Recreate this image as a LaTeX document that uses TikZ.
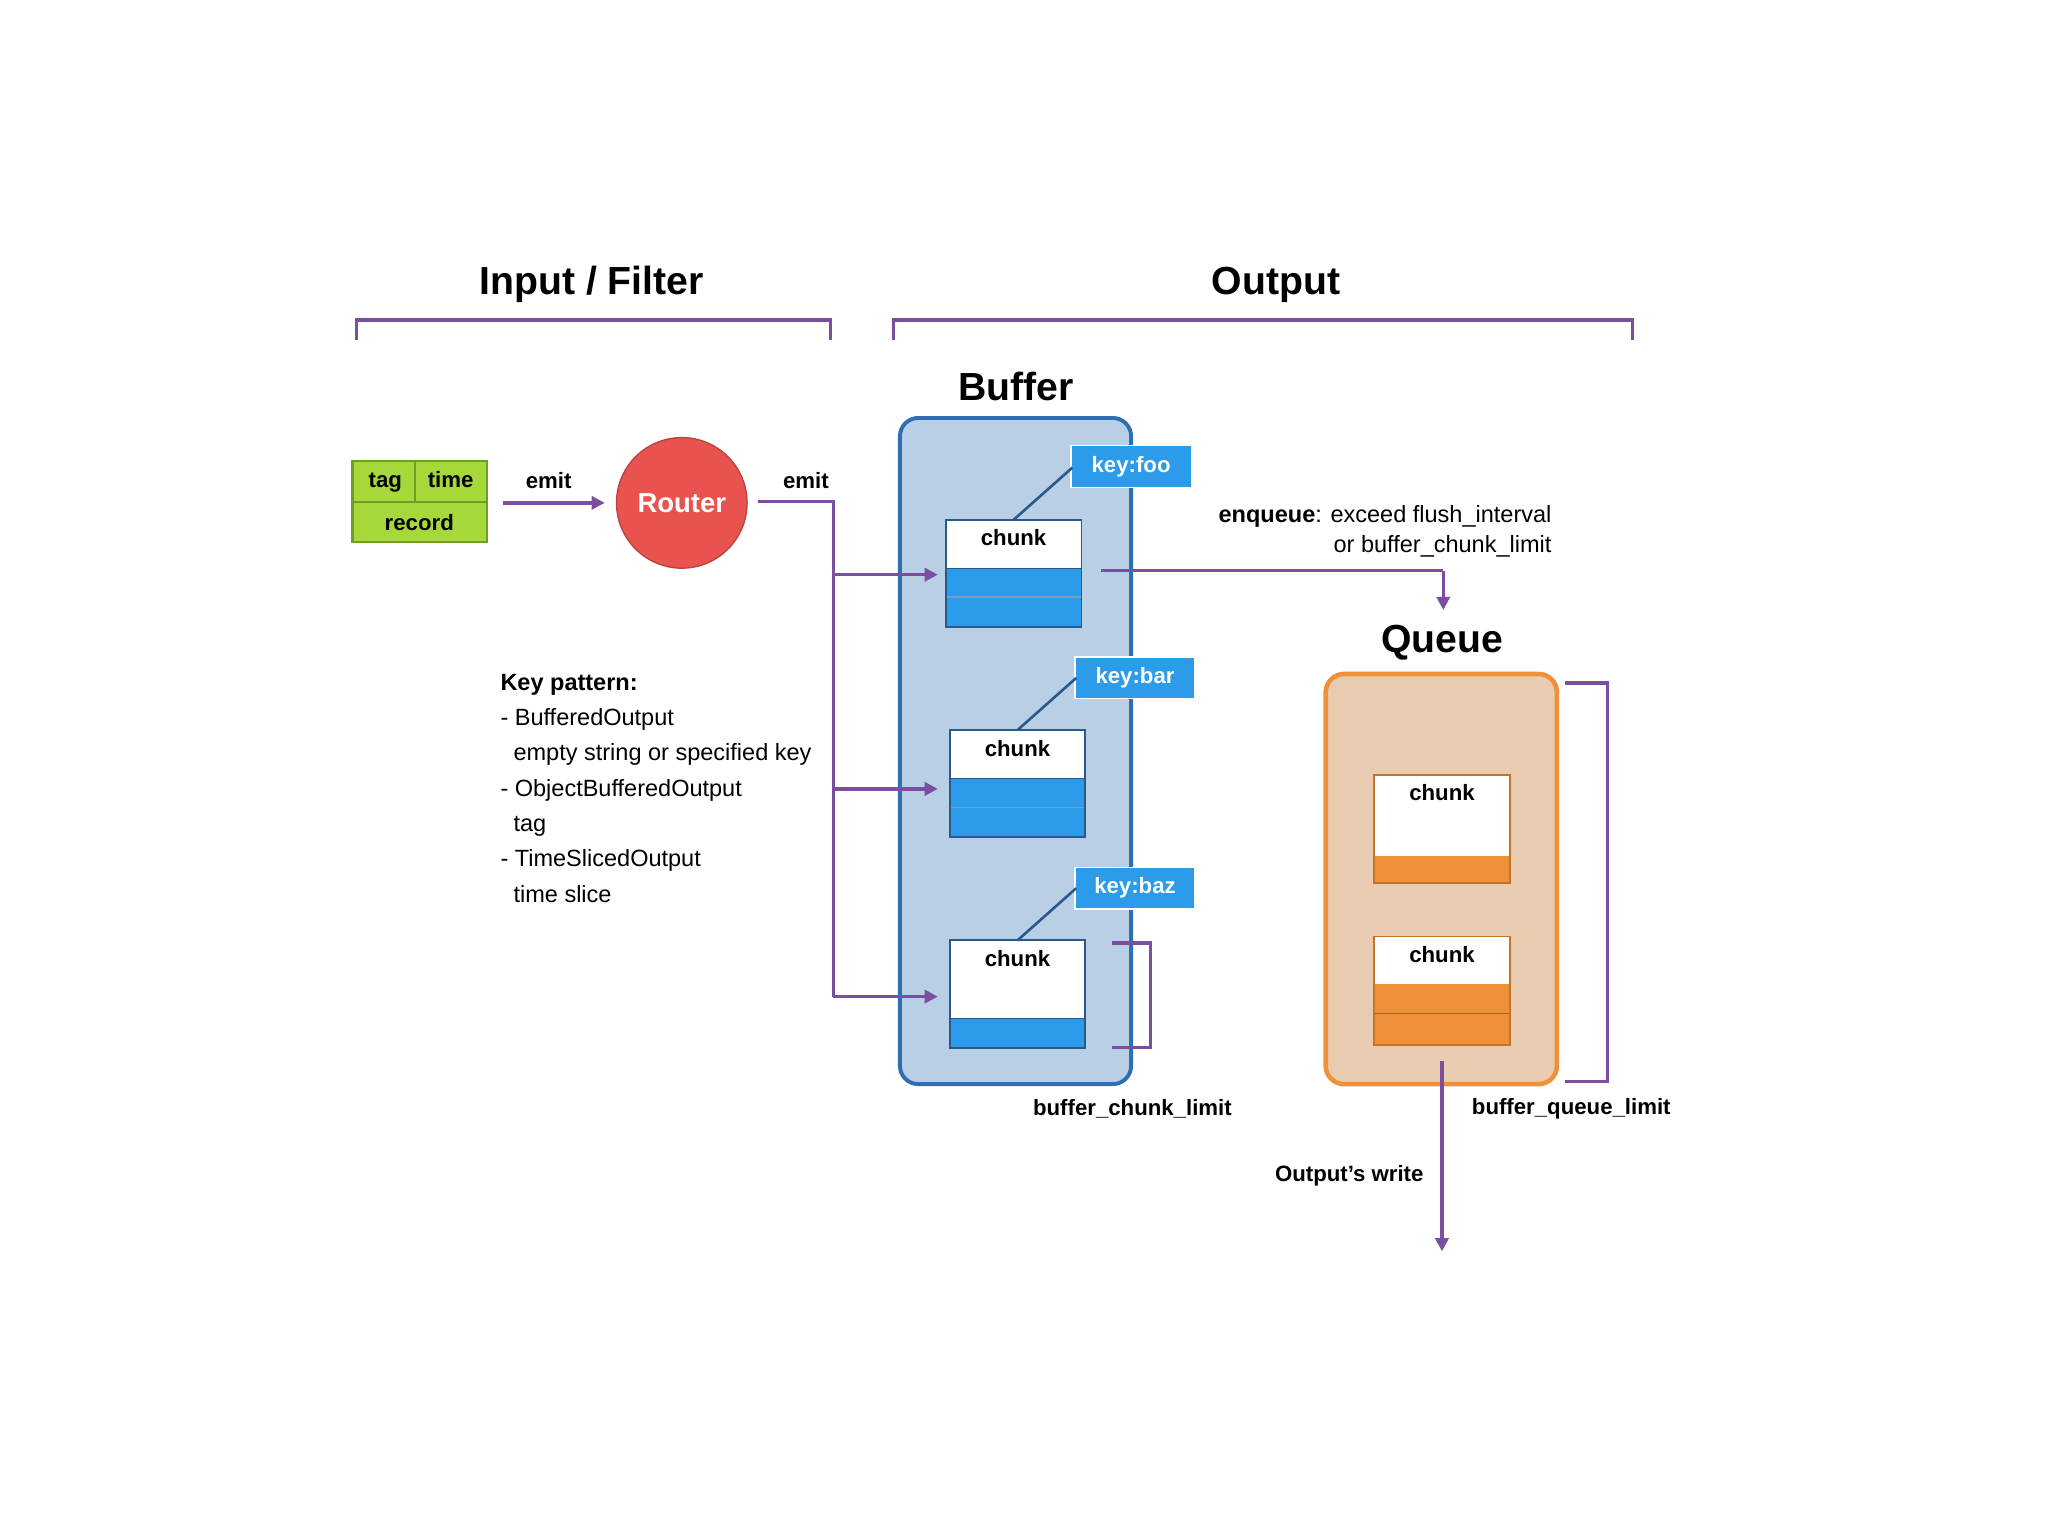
\documentclass[tikz,border=0pt]{standalone}
\usepackage{fontspec}
\setmainfont{Liberation Sans}
\usetikzlibrary{arrows.meta}
\definecolor{pur}{HTML}{7B4FA0}
\definecolor{grn}{HTML}{A6D83A}
\definecolor{grnd}{HTML}{6E9E2A}
\definecolor{rt}{HTML}{E8534F}
\definecolor{bfill}{HTML}{B8CFE6}
\definecolor{bdr}{HTML}{2F6DB5}
\definecolor{cb}{HTML}{2B9BEA}
\definecolor{qfill}{HTML}{E8CBB0}
\definecolor{qbdr}{HTML}{F0913A}
\definecolor{cbd}{HTML}{2A5A8A}
\begin{document}
\begin{tikzpicture}[x=1pt,y=-1pt,
  pl/.style={draw=pur,line width=2.5pt},
  arr/.style={pl,-{Triangle[length=10pt,width=10pt]}},
  ttl/.style={font=\fontsize{30}{32}\selectfont\bfseries},
  lab/.style={font=\fontsize{17}{19}\selectfont\bfseries},
  txt/.style={font=\fontsize{18}{20}\selectfont},
  key/.style={fill=cb,draw=white,line width=1pt,text=white,font=\fontsize{17}{19}\selectfont\bfseries,minimum width=92pt,minimum height=32pt,inner sep=0pt},
]
\useasboundingbox (0,0) rectangle (1568,1176);
\fill[white] (0,0) rectangle (1568,1176);
% titles & brackets
\node[ttl] (tin) at (453,218) {Input / Filter};
\node[ttl] (tout) at (977,218) {Output};
\draw[pl] (273,260) -- (273,245) -- (636,245) -- (636,260);
\draw[pl] (684,260) -- (684,245) -- (1250,245) -- (1250,260);
% record
\draw[grnd,line width=2pt,fill=grn] (270,353) rectangle (373,415);
\draw[grnd,line width=1.5pt] (270,384) -- (373,384) (318,353) -- (318,384);
\node[lab,text height=12pt,text depth=3pt] (tag) at (295,369) {tag};
\node[lab,text height=12pt,text depth=3pt] (time) at (345,369) {time};
\node[lab] (rec) at (321,400) {record};
% router
\node[circle,fill=rt,draw=rt!80!black,line width=1pt,minimum size=100pt,text=white,font=\fontsize{21}{23}\selectfont\bfseries] (router) at (522,385) {Router};
\node[lab] (e1) at (420,368) {emit};
\coordinate (a1) at (385,385);
\coordinate (a2) at (463,385);
\draw[arr] (a1) -- (a2);
\node[lab] (e2) at (617,368) {emit};
% buffer
\node[ttl] (buf) at (778,296) {Buffer};
\draw[bdr,line width=3pt,fill=bfill,rounded corners=14pt] (689,320) rectangle (866,830);
% chunks
\newcommand{\bchunk}[5]{%
  \fill[white] (#1,#2) rectangle (#1+104,#4);
  \fill[cb] (#1,#4) rectangle (#1+104,#2+82);
  \ifnum#5=2 \draw[cbd!60,line width=1pt] (#1,#4+22) -- (#1+104,#4+22);\fi
  \draw[cbd,line width=1.5pt] (#1,#2) rectangle (#1+104,#2+82);
  \draw[cbd,line width=1pt] (#1,#4) -- (#1+104,#4);
  \node[lab,anchor=north] (#3) at (#1+52,#2+4) {chunk};
}
\bchunk{724}{398}{c1}{435}{2}
\bchunk{727}{559}{c2}{596}{2}
\bchunk{727}{720}{c3}{780}{1}
\coordinate (c1t) at (776,398);\coordinate (c2t) at (779,559);\coordinate (c3t) at (779,720);
\node[key] (k1) at (866,357) {key:foo};
\node[key] (k2) at (869,519) {key:bar};
\node[key] (k3) at (869,680) {key:baz};
\coordinate (k1p) at (821,358);\coordinate (k2p) at (824,519);\coordinate (k3p) at (824,680);
\draw[cbd,line width=2pt] (c1t) -- (k1p);
\draw[cbd,line width=2pt] (c2t) -- (k2p);
\draw[cbd,line width=2pt] (c3t) -- (k3p);
% emit routing
\coordinate (r0) at (580,384);\coordinate (r1) at (638,384);\coordinate (r2) at (638,763);
\coordinate (b1) at (638,440);\coordinate (b2) at (638,604);
\coordinate (t1) at (718,440);\coordinate (t2) at (718,604);\coordinate (t3) at (718,763);
\draw[pl] (r0) -- (r1) -- (r2);
\draw[arr] (b1) -- (t1);
\draw[arr] (b2) -- (t2);
\draw[arr] (r2) -- (t3);
% key pattern
\node[txt,anchor=north west,align=left,inner sep=0pt] (kp) at (383,516) {\textbf{Key pattern:}\\[7pt]- BufferedOutput\\[7pt]\ \ empty string or specified key\\[7pt]- ObjectBufferedOutput\\[7pt]\ \ tag\\[7pt]- TimeSlicedOutput\\[7pt]\ \ time slice};
% enqueue
\node[txt,anchor=east,align=right,inner sep=0pt] (enq) at (1188,407) {\textbf{enqueue}: exceed flush\_interval\\[3pt]or buffer\_chunk\_limit};
\coordinate (q0) at (843,437);\coordinate (q1) at (1105,437);\coordinate (q2) at (1105,467);
\draw[pl] (q0) -- (q1);
\draw[arr] (q1) -- (q2);
% queue
\node[ttl] (que) at (1104,492) {Queue};
\draw[qbdr,line width=3.5pt,fill=qfill,rounded corners=14pt] (1015,516) rectangle (1192,830);
\newcommand{\qchunk}[4]{%
  \fill[white] (1052,#1) rectangle (1156,#3);
  \fill[qbdr] (1052,#3) rectangle (1156,#1+83);
  \ifnum#4=2 \draw[qbdr!70!black,line width=1pt] (1052,#3+23) -- (1156,#3+23);\fi
  \draw[qbdr!80!black,line width=1.5pt] (1052,#1) rectangle (1156,#1+83);
  \node[lab,anchor=north] (#2) at (1104,#1+4) {chunk};
}
\qchunk{593}{qc1}{655}{1}
\qchunk{717}{qc2}{753}{2}
% limits
\coordinate (l1) at (851,722);\coordinate (l2) at (881,722);\coordinate (l3) at (881,802);\coordinate (l4) at (851,802);
\draw[pl] (l1) -- (l2) -- (l3) -- (l4);
\node[lab] (bcl) at (867,849) {buffer\_chunk\_limit};
\coordinate (m1) at (1198,523);\coordinate (m2) at (1231,523);\coordinate (m3) at (1231,828);\coordinate (m4) at (1198,828);
\draw[pl] (m1) -- (m2) -- (m3) -- (m4);
\node[lab] (bql) at (1203,849) {buffer\_queue\_limit};
% output
\coordinate (o1) at (1104,812);\coordinate (o2) at (1104,958);
\draw[arr] (o1) -- (o2);
\node[lab] (ow) at (1033,900) {Output’s write};
\end{tikzpicture}
\end{document}
